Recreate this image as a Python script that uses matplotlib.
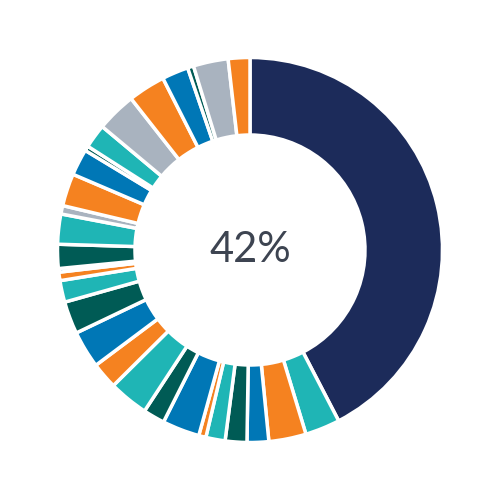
import matplotlib
matplotlib.use("Agg")
import matplotlib.pyplot as plt

values = [42,
          2.9, 3.1, 1.8, 1.8, 1.6, 0.6, 3.1, 1.8, 3.3, 2.2, 3.1, 2.7, 1.8, 0.7, 0.3, 2.0,
          2.5, 0.7, 2.7, 2.2, 0.4, 2.0, 3.3, 3.1, 2.2, 0.5, 2.9, 1.8]
N, T, O, B, G, S = "#1c2b5a", "#1fb5b5", "#f58220", "#0077b6", "#005b55", "#a9b3bf"
colors = [N,
          T, O, B, G, T, O, B, G, T, O, B, G, T, O, B, G,
          T, S, O, B, G, T, S, O, B, G, S, O]
label = "42%"

fig = plt.figure(figsize=(5, 5), dpi=100)
ax = fig.add_axes([0, 0, 1, 1])
ax.pie(values, colors=colors, startangle=90, counterclock=False, radius=0.77,
       wedgeprops=dict(width=0.31, edgecolor="white", linewidth=2.5))
ax.text(0, 0, label, ha="center", va="center", fontsize=30, color="#3d4451",
        family="Lato")
ax.set_xlim(-1, 1); ax.set_ylim(-1, 1)
ax.set_aspect("equal")
ax.axis("off")
fig.savefig("out.png", dpi=100)
